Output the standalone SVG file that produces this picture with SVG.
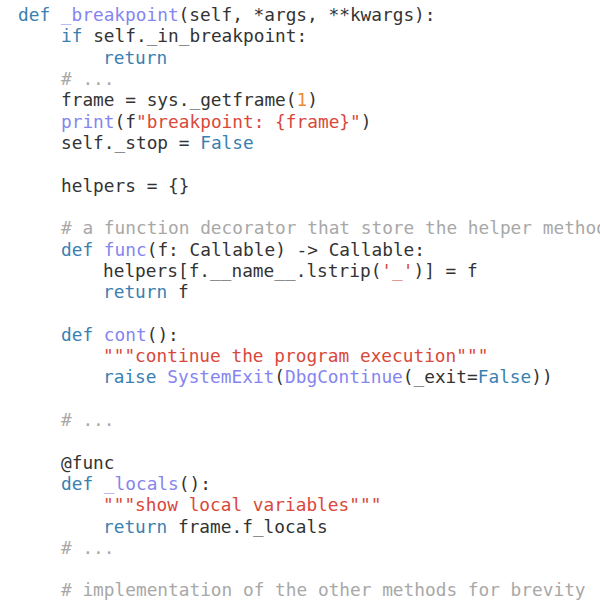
<svg xmlns="http://www.w3.org/2000/svg" width="600" height="600" viewBox="0 0 600 600">
<style>
text{font-family:"DejaVu Sans Mono","Liberation Mono",monospace;font-size:17.8px;fill:#333;white-space:pre}
.k{fill:#3a7fb0}.f{fill:#8585f0}.s{fill:#d9483b}.n{fill:#f08a3a}.c{fill:#a8a8a8}
</style>
<rect width="600" height="600" fill="#fff"/>
<g id="code" xml:space="preserve">
<text x="18" y="21"><tspan class="k">def</tspan> <tspan class="f">_breakpoint</tspan>(self, *args, **kwargs):</text>
<text x="61" y="42"><tspan class="k">if</tspan> self._in_breakpoint:</text>
<text x="103" y="64" class="k">return</text>
<text x="61" y="85" class="c"># ...</text>
<text x="61" y="106">frame = sys._getframe(<tspan class="n">1</tspan>)</text>
<text x="61" y="128"><tspan class="f">print</tspan>(f<tspan class="s">"breakpoint: {frame}"</tspan>)</text>
<text x="61" y="149">self._stop = <tspan class="k">False</tspan></text>
<text x="61" y="192">helpers = {}</text>
<text x="61" y="234" class="c"># a function decorator that store the helper methods</text>
<text x="61" y="256"><tspan class="k">def</tspan> <tspan class="f">func</tspan>(f: Callable) -&gt; Callable:</text>
<text x="103" y="277">helpers[f.__name__.lstrip(<tspan class="s">'_'</tspan>)] = f</text>
<text x="103" y="298"><tspan class="k">return</tspan> f</text>
<text x="61" y="341"><tspan class="k">def</tspan> <tspan class="f">cont</tspan>():</text>
<text x="103" y="362" class="s">"""continue the program execution"""</text>
<text x="103" y="383"><tspan class="k">raise</tspan> <tspan class="f">SystemExit</tspan>(<tspan class="f">DbgContinue</tspan>(_exit=<tspan class="k">False</tspan>))</text>
<text x="61" y="426" class="c"># ...</text>
<text x="61" y="469">@func</text>
<text x="61" y="490"><tspan class="k">def</tspan> <tspan class="f">_locals</tspan>():</text>
<text x="103" y="511" class="s">"""show local variables"""</text>
<text x="103" y="533"><tspan class="k">return</tspan> frame.f_locals</text>
<text x="61" y="554" class="c"># ...</text>
<text x="61" y="596" class="c"># implementation of the other methods for brevity</text>
</g>
</svg>
